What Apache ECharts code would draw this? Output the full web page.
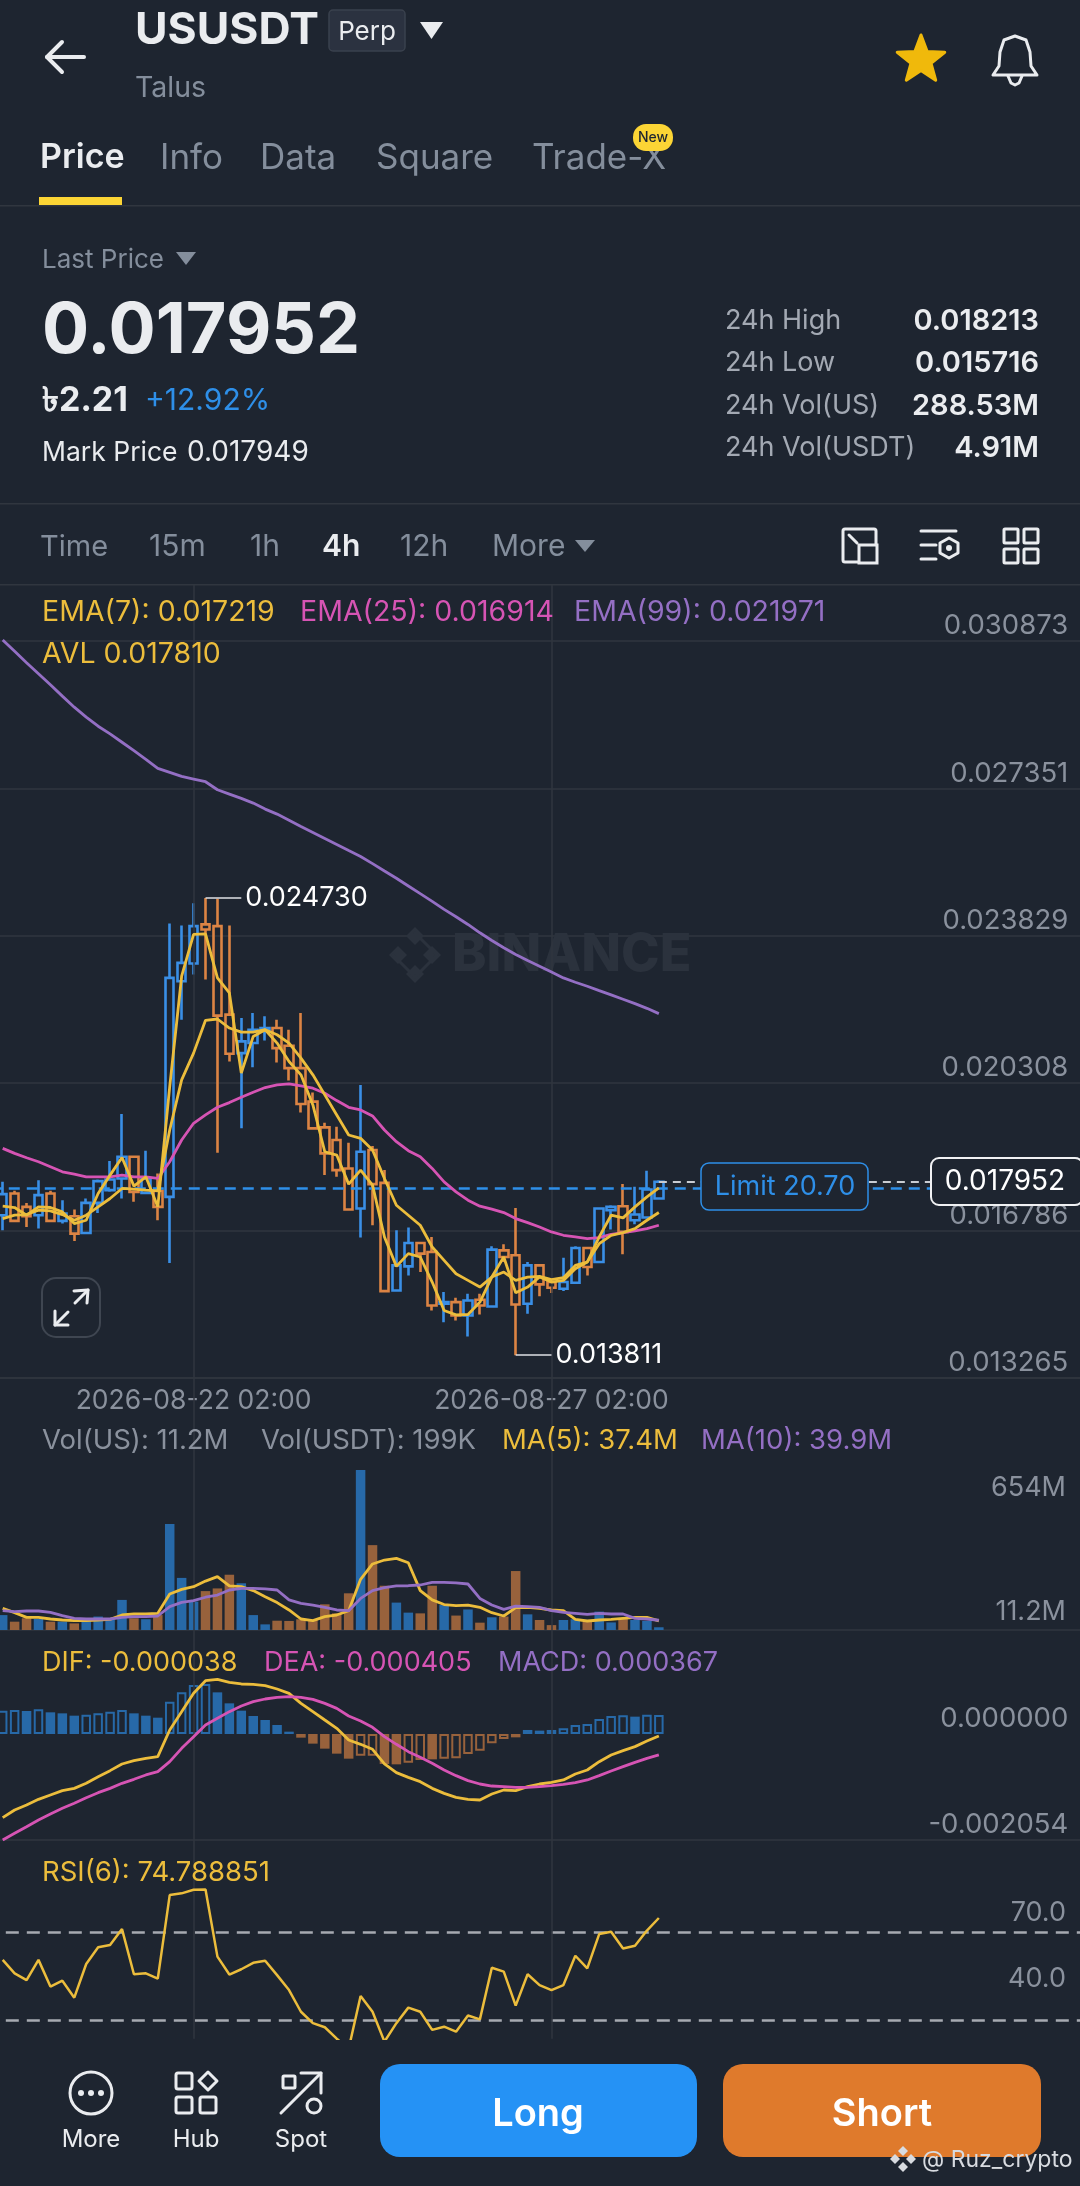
<!DOCTYPE html>
<html><head><meta charset="utf-8">
<style>html,body{margin:0;padding:0;background:#1e2530}#c{width:1080px;height:2186px}</style>
<script src="https://cdn.jsdelivr.net/npm/echarts@6/dist/echarts.min.js"></script>
</head><body><div id="c"></div>
<script>
// ---- data: prices in millionths, volume in millions, MACD in millionths ----
const candleOpen=[17154,17673,17354,17154,17673,17018,17130,16731,17449,17753,18032,18551,17689,17737,17593,22744,23167,24102,24062,21946,21027,21267,21586,21626,21203,20668,19869,19254,18951,18272,17314,18711,17928,15357,15932,16491,16276,15038,15078,14758,15134,14974,16315,16196,15038,15956,15557,15397,15541,16371,16036,17274,17370,17034,17098,17553];
const candleClose=[17657,17018,17130,17633,17018,17194,16715,17449,17968,18008,18551,17713,18032,17354,22824,23183,24062,23982,21922,21011,21307,21586,21626,21147,20668,19813,19230,18631,18232,17290,18671,17897,15341,15956,16491,16236,14998,15078,14758,15117,14998,16331,16156,15022,15956,15501,15421,15557,16371,15916,17314,17354,16755,17170,17769,17952];
const candleLow=[16795,16994,16874,16834,16994,16954,16539,16699,17210,17713,17553,17473,17673,17034,16012,21826,22904,22784,18647,20828,19230,20692,21331,20804,20372,19606,19206,18112,18072,17274,16619,16914,15341,15341,15716,15796,14878,14598,14638,14255,14782,14958,16036,13811,14798,15221,15293,15341,15517,15716,16012,16810,16220,16938,17074,17553];
const candleHigh=[17952,17737,17449,17992,17737,17513,17290,17553,18008,18448,19574,18567,18695,18152,24126,24078,24605,24730,24717,24078,21866,21985,21906,21826,21586,21985,20085,19366,19270,18887,20268,18807,18232,16794,16858,16515,16635,15317,15181,15277,15277,16411,16459,17329,16036,15980,15597,16140,16411,16395,17338,17393,17897,17832,18216,17992];
const ema7=[17074,17154,17170,17274,17258,17170,17034,17154,17354,17553,17793,17777,17753,17737,19190,20388,21027,21810,21842,21626,21530,21530,21586,21466,21267,20907,20508,20029,19550,19071,18991,18711,18032,17393,17154,16914,16395,16076,15756,15597,15437,15677,15796,15597,15677,15692,15613,15661,15956,16036,16475,16675,16739,16834,17034,17219];
const avl=[17370,17338,17154,17354,17338,17234,16954,17034,17673,18112,18535,17849,18072,17354,20228,22864,23862,23878,22824,22465,20548,21426,21586,21267,20828,20508,19789,18671,18591,17897,18232,17873,16635,15932,16236,16156,15557,14878,14774,14782,15078,15677,16156,15301,15437,15677,15557,15597,15876,16036,16635,17154,17090,17354,17593,17810];
const ema25=[18751,18631,18527,18432,18312,18192,18136,18072,18072,18072,18112,18072,18072,18032,18432,18951,19350,19550,19733,19845,19973,20093,20205,20268,20292,20244,20188,20069,19893,19733,19670,19526,19190,18911,18695,18551,18272,17952,17713,17513,17370,17298,17218,17074,16978,16874,16755,16675,16635,16595,16619,16699,16739,16779,16834,16914];
const ema99=[30898,30626,30355,30091,29827,29556,29292,29053,28837,28653,28454,28254,28047,27831,27735,27639,27575,27511,27320,27216,27112,27000,26857,26737,26593,26441,26298,26154,26010,25866,25723,25555,25379,25204,25020,24836,24653,24461,24285,24101,23902,23718,23543,23383,23239,23103,22967,22824,22720,22624,22520,22417,22313,22209,22097,21971];
const volume=[61,34,48,45,34,34,27,37,55,41,123,48,44,61,433,213,116,159,170,226,191,61,23,38,37,44,41,105,68,150,654,347,181,112,71,68,181,102,59,84,30,52,55,241,64,41,20,41,44,34,75,31,48,41,37,11.2];
const volMa5=[88.6,70.9,51.8,51.8,45,40.9,38.2,38.2,40.9,43.6,61.3,65.4,65.4,68.1,147,166,177,200,218,180,177,161,136,112,81.8,45,38.2,54.5,61.3,79,207,270,286,293,275,161,123,104,99.5,102,92.7,70.9,57.2,91.3,92.7,88.6,81.8,79,43.6,36.8,40.9,43.6,47.7,51.8,51.8,37.4];
const volMa10=[79,74.9,77.7,77.7,72.2,58.6,47.7,45,45,45,51.8,54.5,54.5,57.2,95.4,113,120,134,143,163.5,170,170,168,163.5,123,109,102,92.7,81.8,79,129,161,173,180,181,184,195,195,193,188,129,102,84.5,98,95.4,92.7,79,72.2,68.1,64,68.1,65.4,65.4,47.7,45,39.9];
const macdHist=[452,465,446,478,420,400,355,375,400,433,465,400,355,316,627,807,949,969,807,594,452,349,271,174,45,-71,-187,-284,-381,-478,-420,-420,-581,-588,-555,-504,-491,-478,-472,-388,-323,-181,-97,-65,78,65,78,110,174,194,291,349,362,336,375,367];
const macdHollow=[1,1,0,1,0,0,0,1,1,1,1,0,0,0,1,1,1,1,0,0,0,0,0,0,0,0,0,0,0,0,1,1,0,0,1,1,0,1,1,1,1,1,1,0,0,0,0,1,1,1,1,1,1,0,1,1];
const dif=[-1621,-1473,-1376,-1266,-1182,-1098,-1053,-956,-827,-710,-581,-517,-472,-439,78,433,788,1033,1059,1001,969,962,937,872,788,594,433,271,110,-116,-200,-297,-581,-749,-840,-924,-1053,-1150,-1227,-1266,-1279,-1163,-1085,-1098,-1020,-969,-937,-891,-775,-698,-536,-407,-323,-245,-136,-38];
const dea=[-2054,-1925,-1796,-1666,-1550,-1440,-1343,-1234,-1137,-1053,-956,-878,-794,-730,-536,-278,-52,174,304,433,543,627,678,710,723,710,672,594,497,349,252,129,-52,-200,-342,-452,-568,-698,-807,-904,-969,-1008,-1020,-1033,-1033,-1020,-1001,-975,-943,-891,-807,-717,-633,-549,-472,-405];
const rsi6=[60.5,55.9,53.6,60.5,51.4,53.4,47.6,59.1,64.8,65.6,71,55.6,55.9,54.1,82.6,83.2,84.4,84.5,61.6,55.5,57.3,59.5,60.2,55.3,50.2,42.8,38.9,37.5,33.6,30.2,48.2,42.8,32.6,38.9,44.2,42.8,36.6,37.7,36,41.5,40.2,57.8,56.5,44.9,55.6,51.9,50.2,51.9,61.9,57.6,69.3,70.1,64.4,65.3,70.5,74.79];
const priceTicks=[13265,16786,20308,23829,27351,30873];
const macdTicks=[-2054,0];
const rsiLines=[40,70];
const dateTicks=['2026-08-22 02:00','2026-08-27 02:00'];
const highMark=24730, lowMark=13811, lastPrice=17952, limitLevel=17806;

const BG='#1e2530',LINE='#30363f',GRAY='#848e9c',LABEL='#8a919d',WHITE='#eaecef',
  YEL='#ecbd3c',PINK='#d654b4',PUR='#946fc4',UP='#3a8fe6',DOWN='#dc8444',UPD='#2769a8',DOWND='#98623c',BLUE='#2e8fe8';
const F='Inter, "Noto Sans", sans-serif';
const STEP=11.93, SLOTS=92, GL=2.7-1.5*STEP;

// 4h categories: leading empty slot, candle 16 = first date tick
const cats=[];
{const t0=Date.UTC(2026,7,22,2)-17*4*3600e3;
 for(let i=0;i<=SLOTS;i++){const d=new Date(t0+i*4*3600e3);const p=n=>String(n).padStart(2,'0');
  cats.push(d.getUTCFullYear()+'-'+p(d.getUTCMonth()+1)+'-'+p(d.getUTCDate())+' '+p(d.getUTCHours())+':00');}}
const isTick=(i,v)=>dateTicks.includes(cats[i]);
const e6=a=>a.map(v=>v/1e6);
const pad=a=>[null,...a];

const panes=[
 {top:585,h:793},{top:1378,h:40},{top:1418,h:212},{top:1630,h:210},{top:1840,h:198.7}];
const grid=panes.map(p=>({left:GL,width:STEP*(SLOTS+1),top:p.top,height:p.h,show:false,outerBoundsMode:'none',containLabel:false}));
const xAxis=panes.map((p,i)=>({type:'category',gridIndex:i,data:cats,boundaryGap:true,
  axisLine:{show:i!==1&&i!==4,onZero:false,lineStyle:{color:LINE,width:1.5}},axisTick:{show:false,alignWithLabel:true,interval:isTick},
  axisLabel:i===0?{show:true,interval:isTick,color:LABEL,fontSize:26.5,fontFamily:F,margin:10}:{show:false},
  splitLine:{show:false}}));
const yBase=(i,o)=>Object.assign({type:'value',gridIndex:i,position:'right',scale:true,axisLine:{show:false},axisTick:{show:false},
  axisLabel:{show:false},splitLine:{show:false}},o);
const yLabel=(vals,fmt)=>({show:true,inside:true,customValues:vals,formatter:fmt,color:LABEL,fontSize:27.5,fontFamily:F,margin:26,verticalAlign:'bottom',lineHeight:30});
const yAxis=[
 yBase(0,{min:0.013265,max:0.032211,axisTick:{show:false,customValues:e6(priceTicks)},
   axisLabel:yLabel(e6(priceTicks),v=>(+v).toFixed(6)),splitLine:{show:true,lineStyle:{color:LINE,width:1.5}}}),
 yBase(1,{min:0,max:1}),
 yBase(2,{min:0,max:866.7}),
 yBase(3,{min:-0.002054,max:0.002015,axisLabel:yLabel(e6(macdTicks),v=>{const s=(+v).toFixed(6);return s.replace('-0.000000','0.000000')})}),
 yBase(4,{min:33.6,max:101.4,axisTick:{show:false,customValues:rsiLines},splitLine:{show:true,lineStyle:{color:'#a7aab1',width:2.5,type:[13,8]}}})
];
const ln=(name,data,color,pane,extra)=>Object.assign({name,type:'line',xAxisIndex:pane,yAxisIndex:pane,data:pad(data),showSymbol:false,symbol:'none',
  lineStyle:{color,width:2.8},itemStyle:{color},z:5,silent:true,animation:false},extra);
const markLabel={show:true,position:'end',formatter:p=>p.name,color:'#fff',fontSize:27,fontFamily:F,distance:4};
// date grid lines run through every pane, centred on their candle
const dateLines=panes.map((p,i)=>({name:'dates'+i,type:'line',xAxisIndex:i,yAxisIndex:i,data:[],z:1,silent:true,animation:false,
  markLine:{silent:true,animation:false,symbol:'none',label:{show:false},lineStyle:{color:LINE,width:1.5,type:'solid'},data:dateTicks.map(d=>({xAxis:d}))}}));
const series=[
 ...dateLines,
 {name:'Price',type:'candlestick',xAxisIndex:0,yAxisIndex:0,barWidth:9,animation:false,silent:true,z:3,
  data:[['-','-','-','-'],...candleOpen.map((o,i)=>[o/1e6,candleClose[i]/1e6,candleLow[i]/1e6,candleHigh[i]/1e6])],
  itemStyle:{color:'transparent',color0:'transparent',borderColor:UP,borderColor0:DOWN,borderWidth:2.6},
  markLine:{silent:true,symbol:'none',animation:false,label:markLabel,lineStyle:{color:'#dfe1e5',width:1.5,type:'solid'},
   data:[[{name:(highMark/1e6).toFixed(6),coord:[18,highMark/1e6]},{coord:[21,highMark/1e6]}],
         [{name:(lowMark/1e6).toFixed(6),coord:[44,lowMark/1e6]},{coord:[47,lowMark/1e6]}],
         [{name:'',coord:[56,lastPrice/1e6],lineStyle:{color:'#c9ccd2',width:1.8,type:[8,6]},label:{show:false}},{coord:[79,lastPrice/1e6]}],
         [{name:'',coord:[0,limitLevel/1e6],lineStyle:{color:BLUE,width:2.5,type:[11,7]},label:{show:false}},{coord:[SLOTS,limitLevel/1e6]}]]}},
 ln('EMA(99)',e6(ema99),PUR,0),
 ln('EMA(25)',e6(ema25),PINK,0),
 ln('EMA(7)',e6(ema7),YEL,0),
 ln('AVL',e6(avl),YEL,0),
 {name:'Vol',type:'bar',xAxisIndex:2,yAxisIndex:2,barWidth:9.5,animation:false,silent:true,
  data:pad(volume.map((v,i)=>({value:v,itemStyle:{color:candleClose[i]>=candleOpen[i]?UPD:DOWND}})))},
 ln('MA(5)',volMa5,YEL,2),
 ln('MA(10)',volMa10,PUR,2),
 {name:'MACD',type:'bar',xAxisIndex:3,yAxisIndex:3,barWidth:9.5,animation:false,silent:true,
  data:pad(macdHist.map((v,i)=>{const c=v>=0?UPD:DOWND;return{value:v/1e6,itemStyle:macdHollow[i]?{color:'transparent',borderColor:c,borderWidth:2}:{color:c}}}))},
 ln('DIF',e6(dif),YEL,3),
 ln('DEA',e6(dea),PINK,3),
 ln('RSI(6)',rsi6,YEL,4,{lineStyle:{color:YEL,width:2.5}})
];

// ---- page furniture ----
const g=[];
const T=(text,x,y,o={})=>g.push({type:'text',x,y,z:o.z||100,silent:true,style:{text,fill:o.c||WHITE,fontSize:o.s||26,fontWeight:o.w||400,fontFamily:o.f||F,align:o.a||'left',verticalAlign:'middle'}});
const R=(x,y,w,h,o={})=>g.push({type:'rect',z:o.z||90,silent:true,shape:{x,y,width:w,height:h,r:o.r||0},style:{fill:o.fill||'none',stroke:o.stroke||'none',lineWidth:o.lw||2}});
const P=(pts,o={})=>g.push({type:o.fill?'polygon':'polyline',z:o.z||100,silent:true,shape:{points:pts,smooth:o.smooth||0},style:{fill:o.fill||'none',stroke:o.stroke||'none',lineWidth:o.lw||3,lineCap:'round',lineJoin:'round'}});
const C=(x,y,r,o={})=>g.push({type:'circle',z:100,silent:true,shape:{cx:x,cy:y,r},style:{fill:o.fill||'none',stroke:o.stroke||'none',lineWidth:o.lw||3}});

// watermark
[[415,936],[398,955],[432,955],[415,974]].forEach(([x,y])=>P([[x,y-9],[x+9,y],[x,y+9],[x-9,y]],{fill:'#2b323d',z:1}));
P([[415,933],[437,955],[415,977],[393,955]],{stroke:'#2b323d',lw:3,z:1});
T('BINANCE',452,955,{s:52,w:800,c:'#2b323d',z:1});

// header
P([[84,57],[47,57]],{stroke:WHITE,lw:4});P([[62,42],[47,57],[62,72]],{stroke:WHITE,lw:4});
T('USUSDT',135,31,{s:44.5,w:700});
R(329,10,76,41,{fill:'#2b3240',stroke:'#3a414d',r:4,lw:1.5,z:99});T('Perp',367,32,{s:26,a:'center'});
P([[420,22],[443,22],[431.5,39]],{fill:WHITE});
T('Talus',135,88,{s:28.5,c:GRAY});
(()=>{const pts=[];for(let i=0;i<10;i++){const r=i%2?10.5:25,a=-Math.PI/2+i*Math.PI/5;pts.push([921+r*Math.cos(a),60+r*Math.sin(a)]);}P(pts,{fill:'#f0b90b',stroke:'#f0b90b',lw:3});})();
// bell
P([[1015,36],[1004,40],[1000,52],[999,66],[993,75],[1037,75],[1031,66],[1030,52],[1026,40],[1015,36]],{stroke:WHITE,lw:3});
P([[1008,76],[1011,83],[1015,85],[1019,83],[1022,76]],{stroke:WHITE,lw:3});

// tabs
[['Price',40,WHITE,600,34],['Info',160,GRAY,400,35],['Data',260,GRAY,400,35],['Square',376,GRAY,400,35],['Trade-X',532,GRAY,400,35]].forEach(t=>T(t[0],t[1],158,{s:t[4],c:t[2],w:t[3]}));
R(633,124,40,27,{fill:'#fcd535',r:13,z:101});T('New',653,137.5,{s:14,c:'#1e2530',a:'center',w:500,z:102});
R(39,197,83,8,{fill:'#fcd535'});R(0,205,1080,1.5,{fill:LINE});

// quote
T('Last Price',42,260,{s:26,c:GRAY});P([[176,252],[196,252],[186,265]],{fill:GRAY});
T('0.017952',42,332,{s:70,w:700});
T('৳2.21',42,401,{s:34,w:700});T('+12.92%',145,401,{s:30,c:BLUE});
T('Mark Price',42,453,{s:26.5});T('0.017949',187,453,{s:28});
[['24h High','0.018213',321],['24h Low','0.015716',363],['24h Vol(US)','288.53M',406],['24h Vol(USDT)','4.91M',448]].forEach(r=>{T(r[0],725,r[2],{s:27,c:'#a3a9b3'});T(r[1],1039,r[2],{s:29,a:'right',w:600});});
R(0,503,1080,1.5,{fill:LINE});

// interval row
[['Time',40],['15m',149],['1h',250],['4h',322],['12h',400],['More',492]].forEach(t=>T(t[0],t[1],547,{s:t[0]==='Time'?29:30,c:t[0]==='4h'?WHITE:GRAY,w:t[0]==='4h'?600:400}));
P([[575,540],[595,540],[585,552]],{fill:GRAY});
R(843,529,33,33,{stroke:WHITE,lw:3,r:2});R(859,545,18,18,{fill:BG,stroke:WHITE,lw:3,z:95});P([[849,535],[857,543]],{stroke:WHITE,lw:3});
P([[921,531],[956,531]],{stroke:WHITE});P([[921,545],[936,545]],{stroke:WHITE});P([[921,559],[936,559]],{stroke:WHITE});
P([[949,538],[958,543],[958,553],[949,558],[940,553],[940,543]],{stroke:WHITE,fill:BG,lw:3});C(949,548,3,{fill:WHITE});
[[1004,529],[1024,529],[1004,549],[1024,549]].forEach(p=>R(p[0],p[1],14,14,{stroke:WHITE,lw:3,r:1}));
R(0,584,1080,1.5,{fill:LINE});

// legends
const leg=(y,s,arr)=>arr.forEach(a=>T(a[0],a[1],y,{s,c:a[2]}));
leg(612,28.5,[['EMA(7): 0.017219',42,YEL],['EMA(25): 0.016914',300,PINK],['EMA(99): 0.021971',574,PUR]]);
leg(654,28.5,[['AVL 0.017810',42,YEL]]);
leg(1441,27.5,[['Vol(US): 11.2M',42,LABEL],['Vol(USDT): 199K',261,LABEL],['MA(5): 37.4M',502,YEL],['MA(10): 39.9M',701,PUR]]);
leg(1663,27,[['DIF: -0.000038',42,YEL],['DEA: -0.000405',264,PINK],['MACD: 0.000367',498,PUR]]);
leg(1873,27.5,[['RSI(6): 74.788851',42,YEL]]);

// pane labels that do not sit on a tick
T('654M',1066,1488,{s:27,c:LABEL,a:'right'});T('11.2M',1066,1612,{s:27,c:LABEL,a:'right'});
T('70.0',1066,1913,{s:27,c:LABEL,a:'right'});T('40.0',1066,1979,{s:27,c:LABEL,a:'right'});

// price tags
R(701,1163,167,47,{fill:BG,stroke:BLUE,r:8,lw:1.5});T('Limit 20.70',785,1187,{s:27,c:BLUE,a:'center'});
R(931,1158,152,47,{fill:BG,stroke:'#f0f1f3',r:8,lw:2});T('0.017952',1005,1182,{s:28,c:'#fff',a:'center'});

// expand button
R(42,1278,58,59,{stroke:'#3f4651',r:14,lw:2});
P([[75,1303],[88,1290]],{stroke:WHITE});P([[74,1291],[88,1290],[87,1303]],{stroke:WHITE});P([[55,1325],[68,1312]],{stroke:WHITE});P([[55,1311],[55,1325],[68,1325]],{stroke:WHITE});

// bottom bar
C(91,2093,21,{stroke:WHITE,lw:3});[81,91,101].forEach(x=>C(x,2093,3,{fill:WHITE}));
T('More',91,2140,{s:24,a:'center'});
R(176,2073,16,16,{stroke:WHITE,r:2,lw:3});R(176,2097,16,16,{stroke:WHITE,r:2,lw:3});R(200,2097,16,16,{stroke:WHITE,r:2,lw:3});P([[208,2072],[217,2081],[208,2090],[199,2081]],{stroke:WHITE,fill:BG,lw:3});
T('Hub',196,2140,{s:24,a:'center'});
P([[281,2113],[321,2073]],{stroke:WHITE});P([[301,2073],[321,2073],[321,2093]],{stroke:WHITE});R(283,2076,12,12,{stroke:WHITE,lw:3,r:1});C(314,2106,7,{stroke:WHITE,lw:3});
T('Spot',301,2140,{s:24,a:'center'});
R(380,2064,317,93,{fill:'#2592f5',r:20});T('Long',538,2115,{s:38,w:600,c:'#fff',a:'center'});
R(723,2064,318,93,{fill:'#df7a2c',r:20});T('Short',882,2115,{s:38,w:600,c:'#fff',a:'center'});
[[903,2151],[895,2159],[911,2159],[903,2167]].forEach(([x,y])=>P([[x,y-5],[x+5,y],[x,y+5],[x-5,y]],{fill:'#d8dbe0',z:103}));
T('@ Ruz_crypto',922,2160,{s:23,c:'#d8dbe0',z:103});

const chart=echarts.init(document.getElementById('c'),null,{width:1080,height:2186,renderer:'canvas'});
chart.setOption({backgroundColor:BG,animation:false,grid,xAxis,yAxis,series,graphic:{elements:g},tooltip:{show:false},legend:{show:false}});
</script></body></html>
